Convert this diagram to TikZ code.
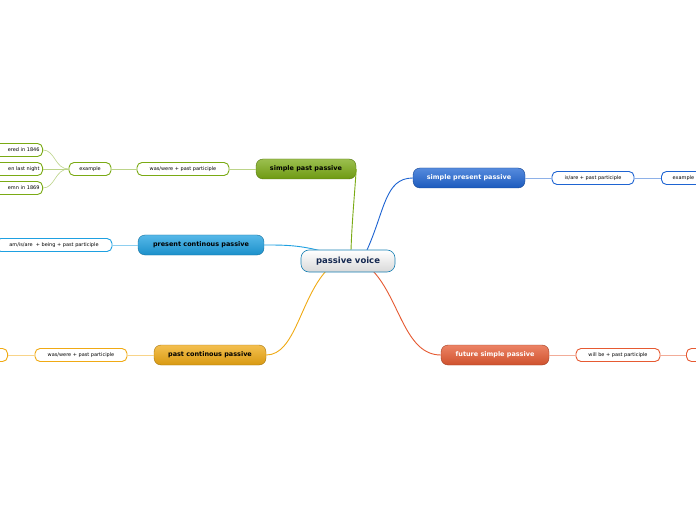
\documentclass[tikz,border=0pt]{standalone}
\usepackage{fontspec}
\setmainfont{DejaVu Sans}
\begin{document}
\begin{tikzpicture}[x=1bp,y=-1bp,
  main/.style={rounded corners=7bp,minimum height=20bp,inner sep=1bp,font=\fontsize{6.5}{7}\selectfont\bfseries,draw=#1!70!black,top color=#1!75,bottom color=#1!90!black,line width=0.4bp},
  leaf/.style={rounded corners=5bp,minimum height=13bp,inner sep=1bp,font=\fontsize{5}{6}\selectfont,draw=#1,fill=white,line width=0.9bp},
  conn/.style={draw=#1,line width=0.9bp},
  thin/.style={draw=#1!50,line width=0.6bp}]
\definecolor{gr}{RGB}{122,170,20}
\definecolor{bl}{RGB}{30,100,210}
\definecolor{cy}{RGB}{30,160,225}
\definecolor{ye}{RGB}{240,170,20}
\definecolor{rd}{RGB}{230,90,50}
\clip (0,0) rectangle (696,520);
\fill[white] (0,0) rectangle (696,520);
% connectors first
\coordinate (c1) at (351,250);
\coordinate (c2) at (367,250);
\coordinate (c3) at (325,252);
\coordinate (c4) at (326,271);
\coordinate (c5) at (373,271);
\node[main=gr,minimum width=100bp] (sp) at (306,169) {simple past passive};
\node[main=bl,minimum width=112bp,text=white] (spr) at (469,178) {simple present passive};
\node[main=cy,minimum width=126bp] (pc) at (201,245) {present continous passive};
\node[main=ye,minimum width=112bp] (pac) at (210,355) {past continous passive};
\node[main=rd,minimum width=108bp,text=white] (fs) at (495,355) {future simple passive};
\begin{scope}[on background layer/.try]
\end{scope}
\draw[conn=gr] (c1) .. controls (352,220) and (355,190) .. (sp.east);
\draw[conn=bl] (c2) .. controls (385,210) and (385,178) .. (spr.west);
\draw[conn=cy] (c3) .. controls (300,245) and (285,245) .. (pc.east);
\draw[conn=ye] (c4) .. controls (300,300) and (295,355) .. (pac.east);
\draw[conn=rd] (c5) .. controls (400,300) and (405,355) .. (fs.west);
\node[rounded corners=8bp,minimum width=94bp,minimum height=22bp,draw=cy!80!black,line width=0.6bp,top color=white,bottom color=black!15,font=\fontsize{8.5}{9}\selectfont\bfseries,text={rgb,255:red,20;green,40;blue,80}] (pv) at (348,261) {passive voice};
% green branch
\node[leaf=gr,minimum width=92bp] (g1) at (183,169) {was/were + past participle};
\node[leaf=gr,minimum width=42bp] (g2) at (90,169) {example};
\node[leaf=gr,minimum width=80bp,anchor=east,align=right,text width=74bp] (g3) at (43,150) {ered in 1846};
\node[leaf=gr,minimum width=80bp,anchor=east,align=right,text width=74bp] (g4) at (43,169) {en last night};
\node[leaf=gr,minimum width=80bp,anchor=east,align=right,text width=74bp] (g5) at (43,188) {emn in 1869};
\draw[thin=gr] (sp.west) -- (g1.east);
\draw[thin=gr] (g1.west) -- (g2.east);
\draw[thin=gr] (g2.west) .. controls (55,169) and (55,150) .. (g3.east);
\draw[thin=gr] (g2.west) -- (g4.east);
\draw[thin=gr] (g2.west) .. controls (55,169) and (55,188) .. (g5.east);
% cyan branch
\node[leaf=cy,minimum width=116bp] (c1n) at (54,245) {am/is/are \ + being + past participle};
\draw[thin=cy] (pc.west) -- (c1n.east);
% yellow branch
\node[leaf=ye,minimum width=92bp] (y1) at (81,355) {was/were + past participle};
\node[leaf=ye,minimum width=40bp,anchor=east] (y2) at (8,355) {};
\draw[thin=ye] (pac.west) -- (y1.east);
\draw[thin=ye] (y1.west) -- (y2.east);
% blue branch
\node[leaf=bl,minimum width=82bp] (b1) at (593,178) {is/are + past participle};
\node[leaf=bl,minimum width=44bp,anchor=west] (b2) at (661,178) {example};
\draw[thin=bl] (spr.east) -- (b1.west);
\draw[thin=bl] (b1.east) -- (b2.west);
% red branch
\node[leaf=rd,minimum width=84bp] (r1) at (618,355) {will be + past participle};
\node[leaf=rd,minimum width=40bp,anchor=west] (r2) at (686,355) {};
\draw[thin=rd] (fs.east) -- (r1.west);
\draw[thin=rd] (r1.east) -- (r2.west);
\end{tikzpicture}
\end{document}
